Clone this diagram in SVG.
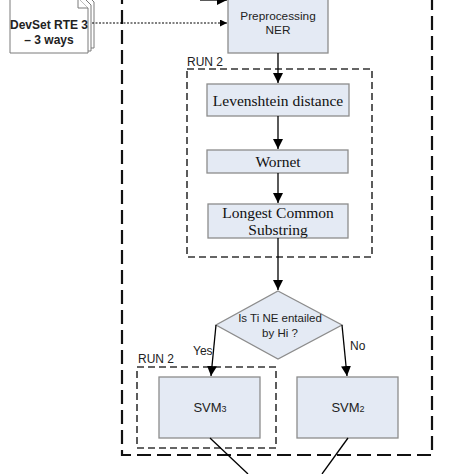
<svg xmlns="http://www.w3.org/2000/svg" width="474" height="474" viewBox="0 0 474 474">
<defs>
<marker id="ah" viewBox="0 0 10 10" refX="10" refY="5" markerWidth="7" markerHeight="7" markerUnits="userSpaceOnUse" orient="auto">
<path d="M0,0 L10,5 L0,10 Z" fill="#000"/>
</marker>
<marker id="ahb" viewBox="0 0 10 10" refX="10" refY="5" markerWidth="10" markerHeight="10" markerUnits="userSpaceOnUse" orient="auto">
<path d="M0,0 L10,5 L0,10 Z" fill="#000"/>
</marker>
</defs>
<style>
.box{fill:#e4eaf4;stroke:#8c8c8c;stroke-width:1.3}
.doc{fill:#fff;stroke:#7a7a7a;stroke-width:1}
.sans{font-family:"Liberation Sans",Arial,sans-serif;fill:#222}
.serif{font-family:"Liberation Serif","Times New Roman",serif;fill:#111}
.run{fill:none;stroke:#333;stroke-width:1.6;stroke-dasharray:7 4}
.outer{fill:none;stroke:#111;stroke-width:2.2;stroke-dasharray:14 6}
.ln{fill:none;stroke:#000;stroke-width:1.3}
</style>
<rect width="474" height="474" fill="#fff"/>
<g id="outer-frame"><path class="outer" d="M122,-10 V455 H432 V-10"/></g>
<g id="run2-top"><rect class="run" x="187" y="69" width="185" height="188"/><text class="sans" x="187" y="66" font-size="12">RUN 2</text></g>
<g id="run2-bottom"><rect class="run" x="137" y="367" width="139" height="81"/><text class="sans" x="138" y="363" font-size="12">RUN 2</text></g>
<g id="devset">
<path class="doc" d="M16,-8 H84 L94,2 V48 H16 Z"/>
<path class="doc" d="M13,-5 H81 L91,5 V51 H13 Z"/>
<path class="doc" d="M10,-2 H78 L88,8 V53 H10 Z"/>
<path class="doc" d="M78,-2 V8 H88"/>
<text class="sans" x="49" y="29" font-size="12" font-weight="bold" text-anchor="middle">DevSet RTE 3</text>
<text class="sans" x="49" y="44" font-size="12" font-weight="bold" text-anchor="middle">– 3 ways</text>
</g>
<g id="preprocessing"><rect class="box" x="228" y="-5" width="100" height="58"/><text class="sans" x="278" y="20" font-size="11.8" text-anchor="middle">Preprocessing</text><text class="sans" x="278" y="34" font-size="11.8" text-anchor="middle">NER</text></g>
<g id="levenshtein"><rect class="box" x="207" y="84" width="142" height="32"/><text class="serif" x="278" y="106" font-size="15.5" text-anchor="middle">Levenshtein distance</text></g>
<g id="wornet"><rect class="box" x="207" y="150" width="141" height="23"/><text class="serif" x="278" y="167" font-size="15.5" text-anchor="middle">Wornet</text></g>
<g id="lcs"><rect class="box" x="208" y="204" width="140" height="34"/><text class="serif" x="278" y="218" font-size="15.5" text-anchor="middle">Longest Common</text><text class="serif" x="278" y="235" font-size="15.5" text-anchor="middle">Substring</text></g>
<g id="decision"><path class="box" d="M278,291 L342,325 L278,359 L216,325 Z"/><text class="sans" x="280" y="322" font-size="11.5" text-anchor="middle">Is Ti NE entailed</text><text class="sans" x="280" y="337" font-size="11.5" text-anchor="middle">by Hi ?</text></g>
<g id="svm3"><rect class="box" x="159" y="377" width="101" height="61"/><text class="sans" x="210" y="412" font-size="13" text-anchor="middle">SVM<tspan font-size="9">3</tspan></text></g>
<g id="svm2"><rect class="box" x="297" y="377" width="101" height="61"/><text class="sans" x="348" y="412" font-size="13" text-anchor="middle">SVM<tspan font-size="9">2</tspan></text></g>
<g id="connectors">
<path d="M92,23 H227" fill="none" stroke="#000" stroke-width="1.2" stroke-dasharray="2 1.5" marker-end="url(#ah)"/>
<path class="ln" d="M200,0 H227" marker-end="url(#ahb)"/>
<path class="ln" d="M278,53 V83" marker-end="url(#ahb)"/>
<path class="ln" d="M278,116 V149" marker-end="url(#ahb)"/>
<path class="ln" d="M278,173 V203" marker-end="url(#ahb)"/>
<path class="ln" d="M278,238 V290" marker-end="url(#ahb)"/>
<path class="ln" d="M216,325 L211,376" marker-end="url(#ahb)"/>
<path class="ln" d="M342,325 L347,376" marker-end="url(#ahb)"/>
<path class="ln" d="M210,438 L248,474"/>
<path class="ln" d="M348,438 L322,474"/>
<text class="sans" x="193" y="355" font-size="12">Yes</text>
<text class="sans" x="350" y="350" font-size="12">No</text>
</g>
</svg>
